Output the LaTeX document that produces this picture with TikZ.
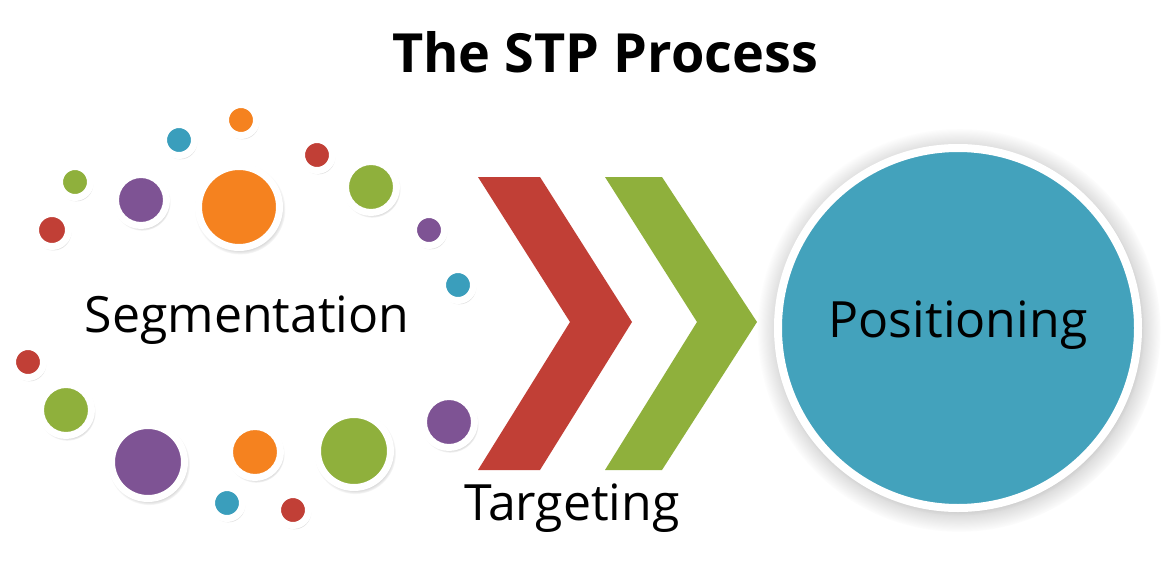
\documentclass[tikz,border=0pt]{standalone}
\usepackage{fontspec}
\setmainfont{Open Sans}
\usetikzlibrary{shadows}
\definecolor{corange}{HTML}{F5821F}
\definecolor{cteal}{HTML}{3A9EBC}
\definecolor{cred}{HTML}{C13F36}
\definecolor{cgreen}{HTML}{8FB03C}
\definecolor{cpurple}{HTML}{7E5394}
\definecolor{cbig}{HTML}{43A2BC}
\begin{document}
\begin{tikzpicture}[x=1pt,y=-1pt,
  dot/.style={circle,fill=#1,draw=white,line width=7pt,inner sep=0pt,circular drop shadow={shadow scale=1.12,opacity=0.45,shadow xshift=1pt,shadow yshift=-2pt}},
  lbl/.style={font=\fontsize{50}{56}\selectfont,text=black}]
\useasboundingbox (0,0) rectangle (1165,565);
\fill[white] (0,0) rectangle (1165,565);
\foreach \n/\x/\y/\r/\c in {a/241/120/12/corange,b/179/140/12/cteal,c/317/155/12/cred,d/75/182/12/cgreen,e/141/200/22/cpurple,f/239/207/37/corange,g/371/187/22/cgreen,h/52/230/13/cred,i/429/230/12/cpurple,j/458/285/12/cteal,k/28/362/12/cred,l/66/410/22/cgreen,m/148/462/33/cpurple,n/255/452/22/corange,o/354/451/33/cgreen,p/449/422/22/cpurple,q/227/503/12/cteal,r/293/510/12/cred}
  \node[dot=\c,minimum size=2*\r pt+7pt] (\n) at (\x,\y) {};
\node[dot=cbig,line width=8pt,minimum size=360pt,circular drop shadow={shadow scale=1.03,opacity=0.4,shadow xshift=1pt,shadow yshift=-2pt}] (pos) at (958,328) {};
\fill[cred] (478,177) -- (540,177) -- (632,322) -- (540,470) -- (478,470) -- (570,322) -- cycle;
\fill[cgreen] (605,177) -- (662,177) -- (757,322) -- (662,470) -- (605,470) -- (697,322) -- cycle;
\node[font=\fontsize{54}{60}\selectfont\bfseries] (title) at (605,52) {The STP Process};
\node[lbl] (seg) at (247,320) {Segmentation};
\node[lbl] (tgt) at (572,508) {Targeting};
\node[lbl] (pt) at (958,325) {Positioning};
\end{tikzpicture}
\end{document}
